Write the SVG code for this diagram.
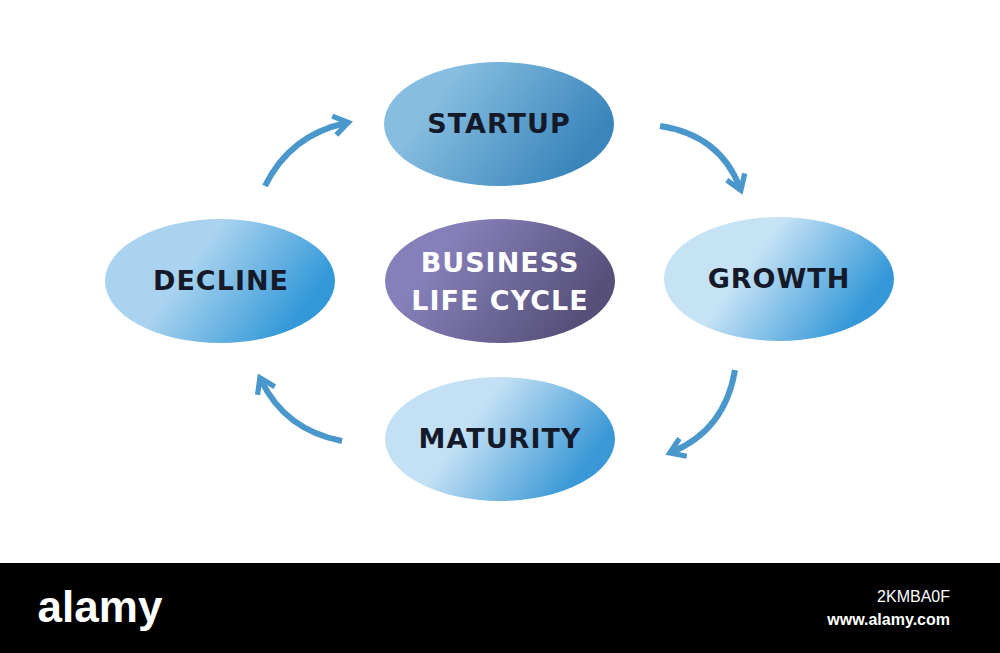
<svg xmlns="http://www.w3.org/2000/svg" width="1000" height="653" viewBox="0 0 1000 653">
<defs>
<linearGradient id="gS" x1="0" y1="0" x2="1" y2="0.4"><stop offset="0.3" stop-color="#86bde0"/><stop offset="1" stop-color="#3a86bb"/></linearGradient>
<linearGradient id="gD" x1="0" y1="0" x2="1" y2="0.4"><stop offset="0.45" stop-color="#a9d3ef"/><stop offset="1" stop-color="#3298d8"/></linearGradient>
<linearGradient id="gG" x1="0" y1="0" x2="1" y2="0.4"><stop offset="0.45" stop-color="#c6e2f5"/><stop offset="1" stop-color="#3498d8"/></linearGradient>
<linearGradient id="gM" x1="0" y1="0" x2="1" y2="0.4"><stop offset="0.45" stop-color="#c3e0f4"/><stop offset="1" stop-color="#3a98d6"/></linearGradient>
<linearGradient id="gC" x1="0" y1="0" x2="1" y2="0.4"><stop offset="0.3" stop-color="#8680ba"/><stop offset="1" stop-color="#565079"/></linearGradient>
<marker id="ah" viewBox="0 0 10 10" refX="6" refY="5" markerWidth="4" markerHeight="4" orient="auto" markerUnits="strokeWidth"><path d="M1,1 L7,5 L1,9" fill="none" stroke="#4a97cc" stroke-width="2.2"/></marker>
<style>
.lbl{font-family:"DejaVu Sans",sans-serif;font-weight:bold;font-size:27px;fill:#151a2a;text-anchor:middle;letter-spacing:1px}
.wl{font-family:"DejaVu Sans",sans-serif;font-weight:bold;font-size:27px;fill:#fff;text-anchor:middle;letter-spacing:1px}
.arr{fill:none;stroke:#4a97cc;stroke-width:6;marker-end:url(#ah)}
</style>
</defs>
<rect width="1000" height="653" fill="#fff"/>
<g id="startup"><ellipse cx="499" cy="124" rx="115" ry="62" fill="url(#gS)"/><text class="lbl" x="499" y="133">STARTUP</text></g>
<g id="decline"><ellipse cx="220" cy="281" rx="115" ry="62" fill="url(#gD)"/><text class="lbl" x="221" y="290">DECLINE</text></g>
<g id="center"><ellipse cx="500" cy="281" rx="115" ry="62" fill="url(#gC)"/><text class="wl" x="500" y="272">BUSINESS</text><text class="wl" x="500" y="310">LIFE CYCLE</text></g>
<g id="growth"><ellipse cx="779" cy="279" rx="115" ry="62" fill="url(#gG)"/><text class="lbl" x="779" y="288">GROWTH</text></g>
<g id="maturity"><ellipse cx="500" cy="439" rx="115" ry="62" fill="url(#gM)"/><text class="lbl" x="500" y="448">MATURITY</text></g>
<g id="connectors">
<path class="arr" d="M265,186 Q290,135 346,123"/>
<path class="arr" d="M660,126 Q720,135 740,188"/>
<path class="arr" d="M735,370 Q725,430 672,452"/>
<path class="arr" d="M342,441 Q285,430 261,380"/>
</g>
<rect x="0" y="563" width="1000" height="90" fill="#000"/>
<text x="100" y="622" font-family="Liberation Sans,sans-serif" font-weight="bold" font-size="44" fill="#fff" text-anchor="middle">alamy</text>
<text x="950" y="602" font-family="Liberation Sans,sans-serif" font-size="16" fill="#fff" text-anchor="end">2KMBA0F</text>
<text x="950" y="625" font-family="Liberation Sans,sans-serif" font-weight="bold" font-size="16" fill="#fff" text-anchor="end">www.alamy.com</text>
</svg>
